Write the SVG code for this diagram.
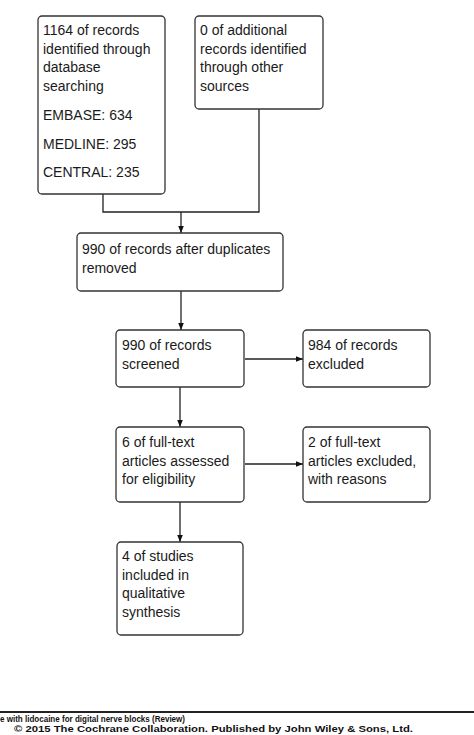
<svg xmlns="http://www.w3.org/2000/svg" width="474" height="735" viewBox="0 0 474 735">
<style>
.box{fill:#fff;stroke:#333;stroke-width:1.3}
.t{font-family:"Liberation Sans",Arial,sans-serif;font-size:14px;fill:#1a1a1a}
.ln{fill:none;stroke:#222;stroke-width:1.3}
.ft{font-family:"Liberation Sans",Arial,sans-serif;font-size:8.3px;font-weight:bold;fill:#111}
</style>
<defs>
<marker id="ah" viewBox="0 0 10 10" refX="10" refY="5" markerWidth="7" markerHeight="7" markerUnits="userSpaceOnUse" orient="auto">
<path d="M0,1 L10,5 L0,9 Z" fill="#111"/>
</marker>
</defs>
<rect width="474" height="735" fill="#fff"/>
<g id="connectors">
<path class="ln" d="M103,194 V212 H259 V109"/>
<path class="ln" d="M181,212 V233" marker-end="url(#ah)"/>
<path class="ln" d="M181,291 V330" marker-end="url(#ah)"/>
<path class="ln" d="M245,359 H303" marker-end="url(#ah)"/>
<path class="ln" d="M180,387 V427" marker-end="url(#ah)"/>
<path class="ln" d="M245,464 H303" marker-end="url(#ah)"/>
<path class="ln" d="M180,502 V542" marker-end="url(#ah)"/>
</g>
<g id="n1">
<rect class="box" x="38" y="16" width="127" height="178" rx="4"/>
<text class="t" x="43" y="35">1164 of records</text>
<text class="t" x="43" y="53.5">identified through</text>
<text class="t" x="43" y="72">database</text>
<text class="t" x="43" y="90.5">searching</text>
<text class="t" x="43" y="120">EMBASE: 634</text>
<text class="t" x="43" y="148.5">MEDLINE: 295</text>
<text class="t" x="43" y="177">CENTRAL: 235</text>
</g>
<g id="n2">
<rect class="box" x="195" y="16" width="128" height="93" rx="4"/>
<text class="t" x="200" y="35">0 of additional</text>
<text class="t" x="200" y="53.5">records identified</text>
<text class="t" x="200" y="72">through other</text>
<text class="t" x="200" y="90.5">sources</text>
</g>
<g id="n3">
<rect class="box" x="77" y="233" width="206" height="58" rx="4"/>
<text class="t" x="82" y="254">990 of records after duplicates</text>
<text class="t" x="82" y="272.5">removed</text>
</g>
<g id="n4">
<rect class="box" x="116" y="330" width="128" height="57" rx="4"/>
<text class="t" x="122" y="350">990 of records</text>
<text class="t" x="122" y="368.5">screened</text>
</g>
<g id="n5">
<rect class="box" x="303" y="330" width="127" height="57" rx="4"/>
<text class="t" x="308" y="350">984 of records</text>
<text class="t" x="308" y="368.5">excluded</text>
</g>
<g id="n6">
<rect class="box" x="116" y="427" width="128" height="75" rx="4"/>
<text class="t" x="122" y="447">6 of full-text</text>
<text class="t" x="122" y="465.5">articles assessed</text>
<text class="t" x="122" y="484">for eligibility</text>
</g>
<g id="n7">
<rect class="box" x="303" y="427" width="127" height="75" rx="4"/>
<text class="t" x="308" y="447">2 of full-text</text>
<text class="t" x="308" y="465.5">articles excluded,</text>
<text class="t" x="308" y="484">with reasons</text>
</g>
<g id="n8">
<rect class="box" x="117" y="542" width="126" height="93" rx="4"/>
<text class="t" x="122" y="561">4 of studies</text>
<text class="t" x="122" y="579.5">included in</text>
<text class="t" x="122" y="598">qualitative</text>
<text class="t" x="122" y="616.5">synthesis</text>
</g>
<g id="footer">
<line x1="0" y1="712" x2="474" y2="712" stroke="#222" stroke-width="1.8"/>
<text class="ft" x="0" y="722" textLength="185" lengthAdjust="spacingAndGlyphs">e with lidocaine for digital nerve blocks (Review)</text>
<text class="ft" x="14" y="731.5" textLength="399" lengthAdjust="spacingAndGlyphs">© 2015 The Cochrane Collaboration. Published by John Wiley &amp; Sons, Ltd.</text>
</g>
</svg>
